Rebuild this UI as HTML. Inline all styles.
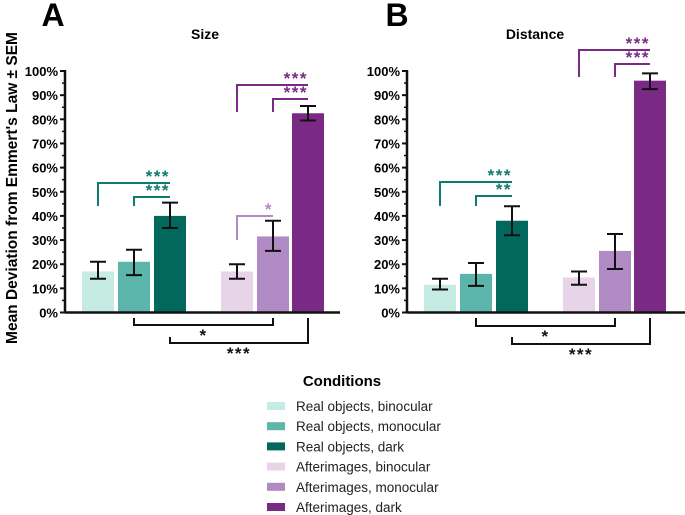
<!DOCTYPE html>
<html><head><meta charset="utf-8"><style>
body{margin:0;background:#fff;}
svg{display:block;font-family:"Liberation Sans",Arial,sans-serif;}
</style></head><body>
<svg id="fig" width="685" height="515" viewBox="0 0 685 515" xmlns="http://www.w3.org/2000/svg">
<text x="53" y="26" font-size="32" font-weight="bold" text-anchor="middle">A</text>
<text x="397" y="26" font-size="32" font-weight="bold" text-anchor="middle">B</text>
<text x="205" y="39" font-size="14" font-weight="bold" text-anchor="middle">Size</text>
<text x="535" y="39" font-size="14" font-weight="bold" text-anchor="middle">Distance</text>
<text transform="translate(17,188) rotate(-90)" font-size="15.5" font-weight="bold" text-anchor="middle">Mean Deviation from Emmert's Law ± SEM</text>
<text x="342" y="386" font-size="15" font-weight="bold" text-anchor="middle">Conditions</text>
<g id="legend"></g>
<g id="pa"></g>
<g id="pb"></g>
</svg>
<script>
const categories = ["Real objects, binocular","Real objects, monocular","Real objects, dark","Afterimages, binocular","Afterimages, monocular","Afterimages, dark"];
const colors = ["#c6ebe3","#5bb5aa","#02685e","#e8d4e8","#b18bc3","#7a2a84"];
const sizeValues = [17,21,40,17,31.5,82.5];
const sizeLow = [14,15.5,35,14,25.5,79.5];
const sizeHigh = [21,26,45.5,20,38,85.5];
const distValues = [11.5,16,38,14.5,25.5,96];
const distLow = [9.5,11,32,11.5,18,92.5];
const distHigh = [14,20.5,44,17,32.5,99];
const yTicks = [0,10,20,30,40,50,60,70,80,90,100];
const NS="http://www.w3.org/2000/svg";
function mk(parent,tag,attrs,text){const e=document.createElementNS(NS,tag);for(const k in attrs)e.setAttribute(k,attrs[k]);if(text!==undefined)e.textContent=text;parent.appendChild(e);return e;}
const barLeftOffsets=[17,53,89,156,192,227];
function drawPanel(g,ax,axEnd,vals,lo,hi,sig,prefix){
  const y0=312.5,y100=71;
  const y=v=>y0-(y0-y100)*v/100;
  const bx=i=>ax+barLeftOffsets[i];
  const bw=32;
  for(let i=0;i<vals.length;i++){
    const r=mk(g,'rect',{x:bx(i),y:y(vals[i]),width:bw,height:y0-y(vals[i]),fill:colors[i]});
    
    
    const cx=bx(i)+bw/2;
    const eb=mk(g,'path',{d:`M${cx-8},${y(hi[i])}H${cx+8}M${cx},${y(hi[i])}V${y(lo[i])}M${cx-8},${y(lo[i])}H${cx+8}`,stroke:'#111','stroke-width':2,fill:'none'});
    
    
  }
  const axg=mk(g,'g',{});
  
  
  mk(axg,'line',{x1:ax,y1:y100-1,x2:ax,y2:y0+1,stroke:'#111','stroke-width':2.5});
  yTicks.forEach(t=>{
    mk(axg,'line',{x1:ax-5,y1:y(t),x2:ax,y2:y(t),stroke:'#111','stroke-width':2});
    if(t<100)mk(axg,'line',{x1:ax-3,y1:y(t+5),x2:ax,y2:y(t+5),stroke:'#111','stroke-width':1.5});
    const tl=mk(axg,'text',{x:ax-7,y:y(t)+5,'font-size':13,'font-weight':'bold','text-anchor':'end'},t+'%');
    
    
  });
  const xa=mk(g,'line',{x1:ax,y1:y0,x2:axEnd,y2:y0,stroke:'#111','stroke-width':2.5});
  
  
  const c=i=>bx(i)+bw/2;
  sig.forEach(s=>{
    const gg=mk(g,'g',{});
    
    
    if(s.below){
      mk(gg,'path',{d:`M${c(s.a)},${s.ya}V${s.yb}H${c(s.b)}V${s.yc}`,stroke:s.col,'stroke-width':2,fill:'none'});
      mk(gg,'text',{x:(c(s.a)+c(s.b))/2,y:s.yb+16,'font-size':17,'font-weight':'bold','text-anchor':'middle',fill:s.col,'letter-spacing':1.5},s.t);
    } else {
      mk(gg,'path',{d:`M${c(s.a)},${s.yl}V${s.yt}H${c(s.b)}`,stroke:s.col,'stroke-width':2,fill:'none'});
      mk(gg,'text',{x:c(s.b),y:s.yt-1,'font-size':17,'font-weight':'bold','text-anchor':'end',fill:s.col,'letter-spacing':1.5},s.t);
    }
  });
}
const T='#0f7a6e',P='#7a2a84',LP='#b18bc3';
drawPanel(document.getElementById('pa'),65,340,sizeValues,sizeLow,sizeHigh,[
  {a:0,b:2,yl:206,yt:183,t:'***',col:T},{a:1,b:2,yl:206,yt:197,t:'***',col:T},
  {a:3,b:5,yl:112,yt:85,t:'***',col:P},{a:4,b:5,yl:112,yt:99,t:'***',col:P},
  {a:3,b:4,yl:240,yt:216,t:'*',col:LP},
  {below:true,a:1,b:4,ya:318,yb:325,yc:318,t:'*',col:'#111'},
  {below:true,a:2,b:5,ya:337,yb:343,yc:318,t:'***',col:'#111'}
],'size');
drawPanel(document.getElementById('pb'),407,685,distValues,distLow,distHigh,[
  {a:0,b:2,yl:206,yt:182,t:'***',col:T},{a:1,b:2,yl:206,yt:196,t:'**',col:T},
  {a:3,b:5,yl:77,yt:50,t:'***',col:P},{a:4,b:5,yl:77,yt:64,t:'***',col:P},
  {below:true,a:1,b:4,ya:318,yb:326,yc:318,t:'*',col:'#111'},
  {below:true,a:2,b:5,ya:337,yb:344,yc:318,t:'***',col:'#111'}
],'dist');
const lg=document.getElementById('legend');
categories.forEach((c,i)=>{
  const yy=406+i*20.2;
  const g=mk(lg,'g',{});
  
  
  mk(g,'rect',{x:267,y:yy-4,width:18,height:8,fill:colors[i]});
  mk(g,'text',{x:296,y:yy+5,'font-size':13.5,fill:'#222'},c);
});
</script>
</body></html>
